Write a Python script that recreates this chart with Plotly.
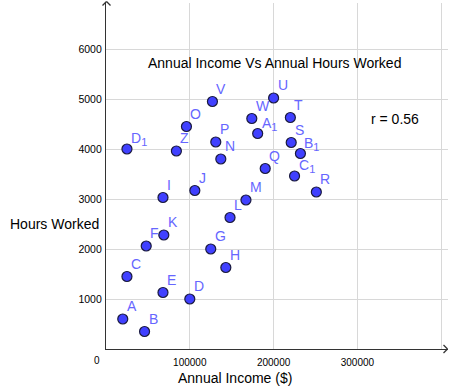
import plotly.graph_objects as go

SUB = "<sub><span style='font-size:11px'>1</span></sub>"
labels = ["A", "B", "C", "D", "E", "F", "G", "H", "I", "J", "K", "L", "M", "N",
          "O", "P", "Q", "R", "S", "T", "U", "V", "W", "Z",
          "A" + SUB, "B" + SUB, "C" + SUB, "D" + SUB]
income = [20000, 46000, 25000, 100000, 68000, 48000, 125000, 143000, 68000, 106000,
          69000, 148000, 167000, 137000, 96000, 131000, 190000, 251000, 221000, 220000,
          200000, 127000, 174000, 84000, 181000, 232000, 225000, 25000]
hours = [600, 350, 1450, 1000, 1130, 2060, 2000, 1630, 3030, 3170,
         2280, 2630, 2980, 3800, 4450, 4140, 3610, 3140, 4130, 4630,
         5020, 4950, 4610, 3960, 4310, 3910, 3460, 4000]

x_ticks = [100000, 200000, 300000, 400000]
x_ticktext = ["100000", "200000", "300000", " "]
y_ticks = [1000, 2000, 3000, 4000, 5000, 6000]

W, H = 450, 392
ML, MR, MT, MB = 106, 2, 3, 43
pw, ph = W - ML - MR, H - MT - MB
X_PER_PX = 100000 / 83.8
Y_PER_PX = 1000 / 50.0

def px(x):
    return (x - ML) / pw

def py(y):
    return (H - MB - y) / ph

FONT = "Liberation Sans, Arial, sans-serif"
LABEL_COL = "#6666ff"

fig = go.Figure()
fig.add_trace(go.Scatter(
    x=income, y=hours, mode="markers",
    marker=dict(size=10, color="#4040ff", line=dict(color="#1a1a40", width=1.2)),
    cliponaxis=False, showlegend=False, hoverinfo="skip",
))

ax_col = "#333333"
shapes = [
    dict(type="line", xref="paper", yref="paper", x0=px(102.5), y0=py(5.5), x1=px(106.5), y1=py(1.5),
         line=dict(color=ax_col, width=1.3)),
    dict(type="line", xref="paper", yref="paper", x0=px(110.5), y0=py(5.5), x1=px(106.5), y1=py(1.5),
         line=dict(color=ax_col, width=1.3)),
    dict(type="line", xref="paper", yref="paper", x0=px(443.5), y0=py(345), x1=px(447.5), y1=py(349),
         line=dict(color=ax_col, width=1.3)),
    dict(type="line", xref="paper", yref="paper", x0=px(443.5), y0=py(353), x1=px(447.5), y1=py(349),
         line=dict(color=ax_col, width=1.3)),
]

annotations = []
for lab, xv, yv in zip(labels, income, hours):
    has_sub = "<sub>" in lab
    annotations.append(dict(
        text=lab, x=xv, y=yv, xref="x", yref="y", showarrow=False,
        xanchor="left", yanchor="middle", xshift=2, yshift=10 if has_sub else 13,
        font=dict(size=14, color=LABEL_COL, family=FONT)))

annotations += [
    dict(text="Annual Income Vs Annual Hours Worked", xref="paper", yref="paper",
         x=px(274.5), y=py(63), showarrow=False, font=dict(size=14, color="#000", family=FONT),
         xanchor="center", yanchor="middle"),
    dict(text="r = 0.56", xref="paper", yref="paper",
         x=px(395), y=py(118.5), showarrow=False, font=dict(size=14, color="#000", family=FONT),
         xanchor="center", yanchor="middle"),
    dict(text="Annual Income ($)", xref="paper", yref="paper",
         x=px(234.5), y=py(378), showarrow=False, font=dict(size=14, color="#000", family=FONT),
         xanchor="center", yanchor="middle"),
    dict(text="Hours Worked", xref="paper", yref="paper",
         x=px(54), y=py(224), showarrow=False, font=dict(size=14, color="#000", family=FONT),
         xanchor="center", yanchor="middle"),
    dict(text="0", xref="paper", yref="paper",
         x=px(96.5), y=py(360.5), showarrow=False, font=dict(size=10, color="#000", family=FONT),
         xanchor="center", yanchor="middle"),
]

fig.update_layout(
    width=W, height=H,
    margin=dict(l=ML, r=MR, t=MT, b=MB, pad=0),
    paper_bgcolor="white", plot_bgcolor="white",
    shapes=shapes, annotations=annotations,
    font=dict(family=FONT),
    xaxis=dict(range=[0, pw * X_PER_PX], tickmode="array", tickvals=x_ticks, ticktext=x_ticktext,
               showgrid=True, gridcolor="#d8d8d8", gridwidth=1, zeroline=False,
               showline=True, linecolor=ax_col, linewidth=1.3,
               ticks="outside", ticklen=4, tickcolor="rgba(0,0,0,0)",
               tickangle=0, tickfont=dict(size=10, color="#000", family=FONT),
               fixedrange=True),
    yaxis=dict(range=[0, ph * Y_PER_PX], tickmode="array", tickvals=y_ticks,
               showgrid=True, gridcolor="#d8d8d8", gridwidth=1, zeroline=False,
               showline=True, linecolor=ax_col, linewidth=1.3,
               ticks="outside", ticklen=1, tickcolor="rgba(0,0,0,0)",
               tickfont=dict(size=10.5, color="#000", family=FONT),
               fixedrange=True),
)

fig.write_html("out.html")
